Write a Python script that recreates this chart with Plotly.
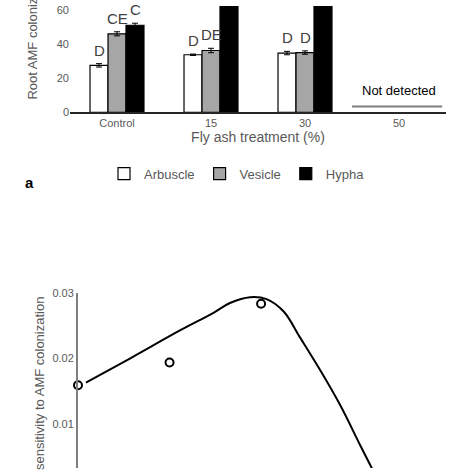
import plotly.graph_objects as go

# Panel a: root AMF colonization (%)
treatments = ["Control", "15", "30", "50"]
arbuscle = [27.5, 33.7, 34.7, None]
arbuscle_err = [1.0, 0.4, 1.0, None]
vesicle = [46.0, 36.2, 35.0, None]
vesicle_err = [1.2, 1.3, 1.0, None]
hypha = [51.0, 80.0, 80.0, None]
hypha_err = [1.2, 2.0, 2.0, None]
arbuscle_letters = ["D", "D", "D", ""]
vesicle_letters = ["CE", "DE", "D", ""]
hypha_letters = ["C", "", "", ""]

# Panel b: sensitivity to AMF colonization
fly_ash = [0, 15, 30, 50]
sensitivity = [0.0159, 0.0194, 0.0284, 0.0]
fit_x = [1.3, 8.5, 16.7, 22.2, 24.9, 28.2, 30.9, 33.7, 36.4, 39.7, 43.0, 46.2, 48.1, 50]
fit_y = [0.0163, 0.0200, 0.0243, 0.0270, 0.0285, 0.0294, 0.0291, 0.0272,
         0.0232, 0.0182, 0.0128, 0.0068, 0.0033, 0.0]

W = 474
H = 474
GREY = "#595959"
FONT = "Liberation Sans, Arial, sans-serif"


def px_x(p):
    return p / W


def px_y(p):
    return 1 - p / H


fig = go.Figure()

series = [
    ("Arbuscle", arbuscle, arbuscle_err, "white"),
    ("Vesicle", vesicle, vesicle_err, "#a6a6a6"),
    ("Hypha", hypha, hypha_err, "black"),
]
for name, vals, errs, col in series:
    fig.add_trace(go.Bar(
        x=treatments, y=vals, name=name,
        marker=dict(color=col, line=dict(color="black", width=1.2)),
        error_y=dict(type="data", array=errs, visible=True, color="black",
                     thickness=1, width=3),
        xaxis="x", yaxis="y",
    ))

# significance letters above each bar (x given as category index)
offsets = [-18, 0, 18]
for off, vals, errs, letters in zip(offsets, [arbuscle, vesicle, hypha],
                                    [arbuscle_err, vesicle_err, hypha_err],
                                    [arbuscle_letters, vesicle_letters, hypha_letters]):
    for i, (v, e, lab) in enumerate(zip(vals, errs, letters)):
        if lab:
            fig.add_annotation(x=i, y=v + e, xref="x", yref="y", text=lab,
                               showarrow=False, xshift=off, yshift=3,
                               yanchor="bottom",
                               font=dict(size=15, color="#404040", family=FONT))

nd = treatments.index("50")
fig.add_annotation(x=nd, y=12.6, xref="x", yref="y", text="Not detected",
                   showarrow=False, font=dict(size=13, color="black", family=FONT))
fig.add_shape(type="line", xref="x", yref="y", x0=nd - 0.5, x1=nd + 0.46, y0=3.4, y1=3.4,
              line=dict(color="#7f7f7f", width=2))

# fitted curve + observed points
fig.add_trace(go.Scatter(
    x=fit_x, y=fit_y, mode="lines", line=dict(color="black", width=2, shape="spline"),
    showlegend=False, xaxis="x2", yaxis="y2",
))
fig.add_trace(go.Scatter(
    x=fly_ash, y=sensitivity, mode="markers",
    marker=dict(symbol="circle-open", size=8, color="black", line=dict(width=2)),
    showlegend=False, cliponaxis=False, xaxis="x2", yaxis="y2",
))

fig.update_layout(
    width=W, height=H,
    margin=dict(l=0, r=0, t=0, b=0),
    paper_bgcolor="white", plot_bgcolor="white",
    font=dict(family=FONT, color=GREY),
    barmode="group", bargap=0.426, bargroupgap=0,
    showlegend=True,
    legend=dict(orientation="h", x=0.5, xanchor="center", y=px_y(172), yanchor="middle",
                font=dict(size=13, color=GREY), itemwidth=30, traceorder="normal",
                tracegroupgap=0),
    xaxis=dict(domain=[px_x(70), px_x(446)], anchor="y", type="category",
               range=[-0.5, len(treatments) - 0.5],
               showline=True, linecolor="#262626",
               linewidth=2, ticks="", tickfont=dict(size=11, color=GREY),
               title=dict(text="Fly ash treatment (%)", font=dict(size=14, color=GREY), standoff=4),
               showgrid=False, zeroline=False),
    yaxis=dict(domain=[px_y(109), 1], anchor="x", range=[0, 62.3], tickvals=[0, 20, 40, 60],
               showline=False, showgrid=False, zeroline=False, ticks="",
               tickfont=dict(size=11, color=GREY)),
    xaxis2=dict(domain=[px_x(78), px_x(446)], anchor="y2", range=[0, 60.3], visible=False),
    yaxis2=dict(domain=[0, px_y(294.7)], anchor="x2", range=[0.00324, 0.03],
                tickvals=[0.01, 0.02, 0.03], ticktext=["0.01", "0.02", "0.03"],
                showline=True, linecolor="#7f7f7f", linewidth=2, ticks="",
                showgrid=False, zeroline=False, tickfont=dict(size=11, color=GREY)),
)

fig.add_annotation(x=px_x(33), y=px_y(98), xref="paper", yref="paper",
                   text="Root AMF colonization (%)", textangle=-90, showarrow=False,
                   xanchor="center", yanchor="bottom", font=dict(size=13, color=GREY))
fig.add_annotation(x=px_x(40), y=px_y(297), xref="paper", yref="paper",
                   text="sensitivity to AMF colonization", textangle=-90, showarrow=False,
                   xanchor="center", yanchor="top", font=dict(size=13, color=GREY))
fig.add_annotation(x=px_x(23), y=px_y(181), xref="paper", yref="paper", text="<b>a</b>",
                   showarrow=False, font=dict(size=15, color="black"))

# page has a default 8px body margin; drop it so the figure sits at the window corner
fig.write_html("out.html", config={"displayModeBar": False},
               post_script="document.body.style.margin='0';")
